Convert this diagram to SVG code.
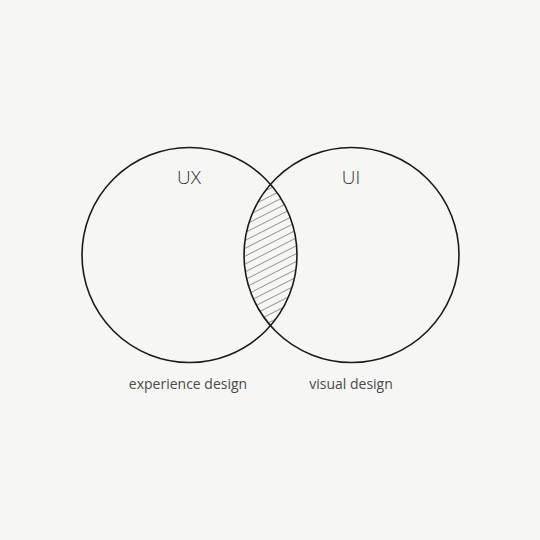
<svg xmlns="http://www.w3.org/2000/svg" width="540" height="540" viewBox="0 0 540 540">
<style>
.ring{fill:none;stroke:#1a1a1a;stroke-width:1.6}
.big{font-family:"Open Sans","Liberation Sans",sans-serif;font-weight:300;font-size:19px;fill:#333;text-anchor:middle}
.sub{font-family:"Open Sans","Liberation Sans",sans-serif;font-weight:400;font-size:14px;fill:#4a4a4a;text-anchor:middle}
</style>
<defs>
<pattern id="hatch" width="10" height="7" patternUnits="userSpaceOnUse" patternTransform="rotate(-27)">
<line x1="0" y1="3.5" x2="10" y2="3.5" stroke="#999" stroke-width="1"/>
</pattern>
<clipPath id="clipL"><circle cx="189.5" cy="255" r="107.5"/></clipPath>
</defs>
<rect width="540" height="540" fill="#f6f6f4"/>
<g id="overlap">
<circle cx="351.5" cy="255" r="107.5" fill="url(#hatch)" clip-path="url(#clipL)"/>
</g>
<g id="ux">
<circle class="ring" cx="189.5" cy="255" r="107.5"/>
<text class="big" x="189" y="184">UX</text>
<text class="sub" x="188" y="389">experience design</text>
</g>
<g id="ui">
<circle class="ring" cx="351.5" cy="255" r="107.5"/>
<text class="big" x="351" y="184">UI</text>
<text class="sub" x="351" y="389">visual design</text>
</g>
<g id="connectors"></g>
</svg>
